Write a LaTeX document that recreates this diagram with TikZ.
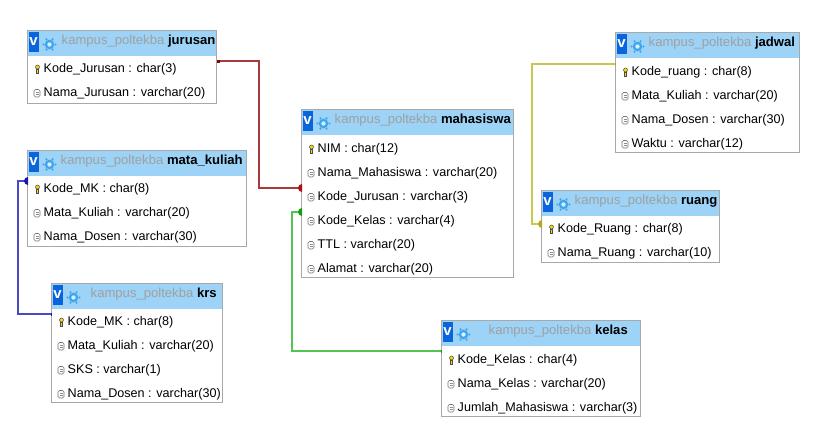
\documentclass[tikz,border=0pt]{standalone}
\usepackage{fontspec}
\setmainfont{Liberation Sans}
\definecolor{hdr}{HTML}{9CD3F7}
\definecolor{bord}{HTML}{A8A8A8}
\definecolor{vblue}{HTML}{0A64DC}
\definecolor{gearblue}{HTML}{3FA6EE}
\definecolor{titlegrey}{HTML}{A0A0A0}
\definecolor{linkred}{HTML}{A83A3A}
\definecolor{linkgreen}{HTML}{52C452}
\definecolor{linkblue}{HTML}{4A4AC4}
\definecolor{linkolive}{HTML}{C8C850}
\definecolor{dotred}{HTML}{B01010}
\definecolor{dotgreen}{HTML}{10A010}
\definecolor{dotblue}{HTML}{1818A8}
\definecolor{dotolive}{HTML}{B8A820}
\tikzset{
  x=1pt,y=-1pt,
  tablebox/.style={draw=bord,line width=1pt,fill=white,anchor=north west,inner sep=0pt,outer sep=0pt},
  headbar/.style={fill=hdr,anchor=north west,inner sep=0pt,outer sep=0pt},
  vbtn/.style={fill=vblue,text=white,font=\fontsize{15}{15}\selectfont\bfseries,anchor=north west,inner sep=0pt,outer sep=0pt,minimum width=10pt,minimum height=20pt},
  titletext/.style={anchor=west,inner sep=0pt,font=\fontsize{13.1}{15}\selectfont,text=titlegrey},
  rowtext/.style={anchor=west,inner sep=0pt,font=\fontsize{12.6}{14}\selectfont,text=black},
  linkline/.style={line width=1.05pt}
}
% #1 name, #2 left, #3 top, #4 width, #5 height, #6 title offset, #7 title name, #8 first row offset, #9 rows
\newcommand\erdtable[9]{%
\begin{scope}[shift={(#2-0.5,#3-0.5)}]
  \node[tablebox,minimum width=#4 pt,minimum height=#5 pt] (#1) at (0,0) {};
  \node[headbar,minimum width=#4 pt,minimum height=25pt] (#1-head) at (0,0) {};
  \draw[bord,line width=1pt] (0,0) rectangle (#4,#5);
  \node[vbtn] (#1-v) at (1,1) {v};
  \fill[gearblue] (22,14) circle (4.8);
  \foreach \a in {0,60,...,300} \fill[gearblue] (22,14) ++(\a:6) circle (1.2);
  \fill[hdr!35!white] (22,14) circle (2.2);
  \node[titletext] (#1-title) at (#6,10.5) {kampus\_poltekba \textcolor{black}{\bfseries #7}};
  \foreach \r [count=\i from 0] in {#9}{
    \pgfmathsetmacro\yy{#8+\i*24}
    \node[rowtext] (#1-row\i) at (16,\yy) {\r};
    \ifnum\i=0
      \draw[black!70,fill=yellow!70!orange,line width=.5pt] (10,\yy-2) circle (2);
      \draw[black!70,fill=yellow!70!orange,line width=.5pt] (9,\yy) rectangle (11,\yy+4);
    \else
      \draw[black!55,fill=white,line width=.6pt,rounded corners=1.5pt] (6.5,\yy-3.5) rectangle (12.5,\yy+4);
      \draw[black!45,line width=.5pt] (8,\yy-1) -- (11,\yy-1) (8,\yy+1) -- (11,\yy+1);
    \fi
  }
\end{scope}}
\begin{document}
\begin{tikzpicture}
\useasboundingbox (0,0) rectangle (823,439);
\erdtable{jurusan}{28}{31}{189}{73}{34}{jurusan}{38.5}{Kode\_Jurusan : char(3),Nama\_Jurusan : varchar(20)}
\erdtable{matakuliah}{28}{151}{219}{96}{33}{mata\_kuliah}{38.5}{Kode\_MK : char(8),Mata\_Kuliah : varchar(20),Nama\_Dosen : varchar(30)}
\erdtable{krs}{52}{284}{171}{119}{39}{krs}{38.5}{Kode\_MK : char(8),Mata\_Kuliah : varchar(20),SKS : varchar(1),Nama\_Dosen : varchar(30)}
\erdtable{mahasiswa}{302}{110}{212}{168}{33}{mahasiswa}{39.5}{NIM : char(12),Nama\_Mahasiswa : varchar(20),Kode\_Jurusan : varchar(3),Kode\_Kelas : varchar(4),TTL : varchar(20),Alamat : varchar(20)}
\erdtable{kelas}{442}{321}{199}{96}{47}{kelas}{39.5}{Kode\_Kelas : char(4),Nama\_Kelas : varchar(20),Jumlah\_Mahasiswa : varchar(3)}
\erdtable{ruang}{542}{191}{178}{72}{33}{ruang}{38.5}{Kode\_Ruang : char(8),Nama\_Ruang : varchar(10)}
\erdtable{jadwal}{616}{33}{184}{120}{33}{jadwal}{39.5}{Kode\_ruang : char(8),Mata\_Kuliah : varchar(20),Nama\_Dosen : varchar(30),Waktu : varchar(12)}
\coordinate (redA) at (217,61);
\coordinate (redB) at (302,188);
\coordinate (greenA) at (442,351);
\coordinate (greenB) at (302,212);
\coordinate (blueA) at (52,314);
\coordinate (blueB) at (28,181);
\coordinate (oliveA) at (616,64);
\coordinate (oliveB) at (542,224);
\draw[linkline,linkred] (redA) -- (259,61) -- (259,188) -- (redB);
\draw[linkline,linkgreen] (greenA) -- (292,351) -- (292,212) -- (greenB);
\draw[linkline,linkblue] (blueA) -- (18,314) -- (18,181) -- (blueB);
\draw[linkline,linkolive] (oliveA) -- (532,64) -- (532,224) -- (oliveB);
\fill[dotred!70!black] (217,59.5) rectangle (220,62.5);
\fill[dotred] (302,184) arc (-90:-270:4) -- cycle;
\fill[dotgreen] (302,208) arc (-90:-270:4) -- cycle;
\fill[dotblue] (28,177) arc (-90:-270:4) -- cycle;
\fill[dotolive] (542,220) arc (-90:-270:4) -- cycle;
\fill[dotgreen] (440.5,349.5) rectangle (442,352.5);
\fill[dotblue] (50.5,312.5) rectangle (52,315.5);
\fill[dotolive] (614.5,62.5) rectangle (616,65.5);
\end{tikzpicture}
\end{document}
